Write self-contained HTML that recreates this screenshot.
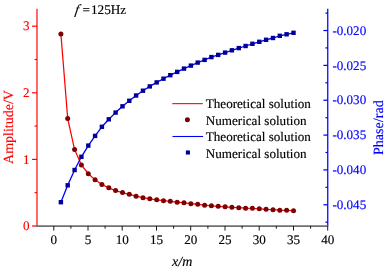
<!DOCTYPE html>
<html><head><meta charset="utf-8"><title>chart</title>
<style>
html,body{margin:0;padding:0;background:#fff;}
svg{display:block;}
text{text-rendering:geometricPrecision;font-family:"Liberation Serif","Times New Roman",serif;font-size:13.1px;stroke-width:0.15px;}
.k{fill:#000;stroke:#000}.r{fill:#ff0000;stroke:#ff0000}.b{fill:#0000ff;stroke:#0000ff}
</style></head><body>
<svg width="387" height="269" viewBox="0 0 387 269">
<rect width="387" height="269" fill="#fff"/>

<polyline points="60.9,34.05 67.7,118.55 74.6,149.55 81.4,164.95 88.3,173.75 95.1,179.85 101.9,184.55 108.8,187.85 115.6,190.55 122.5,192.55 129.3,194.35 136.1,196.15 143.0,197.65 149.8,198.85 156.7,199.85 163.5,200.65 170.3,201.35 177.2,202.15 184.0,202.85 190.9,203.65 197.7,204.35 204.6,205.15 211.4,205.85 218.2,206.35 225.1,206.85 231.9,207.35 238.8,207.65 245.6,208.15 252.4,208.35 259.3,208.85 266.1,209.35 273.0,209.65 279.8,210.15 286.6,210.35 293.5,210.65" fill="none" stroke="#ff0000" stroke-width="1.25" stroke-linejoin="round"/>
<polyline points="60.9,202.20 67.7,185.30 74.6,170.00 81.4,156.80 88.3,145.60 95.1,135.90 101.9,126.80 108.8,119.30 115.6,112.60 122.5,106.30 129.3,100.80 136.1,95.50 143.0,90.70 149.8,86.40 156.7,82.40 163.5,78.70 170.3,75.20 177.2,71.90 184.0,68.60 190.9,65.60 197.7,62.60 204.6,59.90 211.4,57.10 218.2,54.90 225.1,52.60 231.9,50.30 238.8,48.10 245.6,46.00 252.4,43.80 259.3,41.80 266.1,39.80 273.0,38.00 279.8,35.80 286.6,34.30 293.5,32.80" fill="none" stroke="#0000ff" stroke-width="1.3" stroke-linejoin="round"/>
<circle cx="60.9" cy="34.05" r="2.5" fill="#7e0004"/>
<circle cx="67.7" cy="118.55" r="2.5" fill="#7e0004"/>
<circle cx="74.6" cy="149.55" r="2.5" fill="#7e0004"/>
<circle cx="81.4" cy="164.95" r="2.5" fill="#7e0004"/>
<circle cx="88.3" cy="173.75" r="2.5" fill="#7e0004"/>
<circle cx="95.1" cy="179.85" r="2.5" fill="#7e0004"/>
<circle cx="101.9" cy="184.55" r="2.5" fill="#7e0004"/>
<circle cx="108.8" cy="187.85" r="2.5" fill="#7e0004"/>
<circle cx="115.6" cy="190.55" r="2.5" fill="#7e0004"/>
<circle cx="122.5" cy="192.55" r="2.5" fill="#7e0004"/>
<circle cx="129.3" cy="194.35" r="2.5" fill="#7e0004"/>
<circle cx="136.1" cy="196.15" r="2.5" fill="#7e0004"/>
<circle cx="143.0" cy="197.65" r="2.5" fill="#7e0004"/>
<circle cx="149.8" cy="198.85" r="2.5" fill="#7e0004"/>
<circle cx="156.7" cy="199.85" r="2.5" fill="#7e0004"/>
<circle cx="163.5" cy="200.65" r="2.5" fill="#7e0004"/>
<circle cx="170.3" cy="201.35" r="2.5" fill="#7e0004"/>
<circle cx="177.2" cy="202.15" r="2.5" fill="#7e0004"/>
<circle cx="184.0" cy="202.85" r="2.5" fill="#7e0004"/>
<circle cx="190.9" cy="203.65" r="2.5" fill="#7e0004"/>
<circle cx="197.7" cy="204.35" r="2.5" fill="#7e0004"/>
<circle cx="204.6" cy="205.15" r="2.5" fill="#7e0004"/>
<circle cx="211.4" cy="205.85" r="2.5" fill="#7e0004"/>
<circle cx="218.2" cy="206.35" r="2.5" fill="#7e0004"/>
<circle cx="225.1" cy="206.85" r="2.5" fill="#7e0004"/>
<circle cx="231.9" cy="207.35" r="2.5" fill="#7e0004"/>
<circle cx="238.8" cy="207.65" r="2.5" fill="#7e0004"/>
<circle cx="245.6" cy="208.15" r="2.5" fill="#7e0004"/>
<circle cx="252.4" cy="208.35" r="2.5" fill="#7e0004"/>
<circle cx="259.3" cy="208.85" r="2.5" fill="#7e0004"/>
<circle cx="266.1" cy="209.35" r="2.5" fill="#7e0004"/>
<circle cx="273.0" cy="209.65" r="2.5" fill="#7e0004"/>
<circle cx="279.8" cy="210.15" r="2.5" fill="#7e0004"/>
<circle cx="286.6" cy="210.35" r="2.5" fill="#7e0004"/>
<circle cx="293.5" cy="210.65" r="2.5" fill="#7e0004"/>
<rect x="58.7" y="200.0" width="4.4" height="4.4" fill="#000099"/>
<rect x="65.5" y="183.1" width="4.4" height="4.4" fill="#000099"/>
<rect x="72.4" y="167.8" width="4.4" height="4.4" fill="#000099"/>
<rect x="79.2" y="154.6" width="4.4" height="4.4" fill="#000099"/>
<rect x="86.1" y="143.4" width="4.4" height="4.4" fill="#000099"/>
<rect x="92.9" y="133.7" width="4.4" height="4.4" fill="#000099"/>
<rect x="99.7" y="124.6" width="4.4" height="4.4" fill="#000099"/>
<rect x="106.6" y="117.1" width="4.4" height="4.4" fill="#000099"/>
<rect x="113.4" y="110.4" width="4.4" height="4.4" fill="#000099"/>
<rect x="120.3" y="104.1" width="4.4" height="4.4" fill="#000099"/>
<rect x="127.1" y="98.6" width="4.4" height="4.4" fill="#000099"/>
<rect x="133.9" y="93.3" width="4.4" height="4.4" fill="#000099"/>
<rect x="140.8" y="88.5" width="4.4" height="4.4" fill="#000099"/>
<rect x="147.6" y="84.2" width="4.4" height="4.4" fill="#000099"/>
<rect x="154.5" y="80.2" width="4.4" height="4.4" fill="#000099"/>
<rect x="161.3" y="76.5" width="4.4" height="4.4" fill="#000099"/>
<rect x="168.1" y="73.0" width="4.4" height="4.4" fill="#000099"/>
<rect x="175.0" y="69.7" width="4.4" height="4.4" fill="#000099"/>
<rect x="181.8" y="66.4" width="4.4" height="4.4" fill="#000099"/>
<rect x="188.7" y="63.4" width="4.4" height="4.4" fill="#000099"/>
<rect x="195.5" y="60.4" width="4.4" height="4.4" fill="#000099"/>
<rect x="202.4" y="57.7" width="4.4" height="4.4" fill="#000099"/>
<rect x="209.2" y="54.9" width="4.4" height="4.4" fill="#000099"/>
<rect x="216.0" y="52.7" width="4.4" height="4.4" fill="#000099"/>
<rect x="222.9" y="50.4" width="4.4" height="4.4" fill="#000099"/>
<rect x="229.7" y="48.1" width="4.4" height="4.4" fill="#000099"/>
<rect x="236.6" y="45.9" width="4.4" height="4.4" fill="#000099"/>
<rect x="243.4" y="43.8" width="4.4" height="4.4" fill="#000099"/>
<rect x="250.2" y="41.6" width="4.4" height="4.4" fill="#000099"/>
<rect x="257.1" y="39.6" width="4.4" height="4.4" fill="#000099"/>
<rect x="263.9" y="37.6" width="4.4" height="4.4" fill="#000099"/>
<rect x="270.8" y="35.8" width="4.4" height="4.4" fill="#000099"/>
<rect x="277.6" y="33.6" width="4.4" height="4.4" fill="#000099"/>
<rect x="284.4" y="32.1" width="4.4" height="4.4" fill="#000099"/>
<rect x="291.3" y="30.6" width="4.4" height="4.4" fill="#000099"/>
<g stroke="#ff0000" stroke-width="1.18" fill="none">
<line x1="37.0" y1="8.8" x2="37.0" y2="226.4"/>
<line x1="32.0" y1="226.0" x2="37.0" y2="226.0"/>
<line x1="32.0" y1="159.4" x2="37.0" y2="159.4"/>
<line x1="32.0" y1="92.8" x2="37.0" y2="92.8"/>
<line x1="32.0" y1="26.2" x2="37.0" y2="26.2"/>
<line x1="34.6" y1="192.7" x2="37.0" y2="192.7"/>
<line x1="34.6" y1="126.1" x2="37.0" y2="126.1"/>
<line x1="34.6" y1="59.5" x2="37.0" y2="59.5"/>
</g>
<text x="29.6" y="230.1" text-anchor="end" class="r">0</text>
<text x="29.6" y="163.7" text-anchor="end" class="r">1</text>
<text x="29.6" y="96.7" text-anchor="end" class="r">2</text>
<text x="29.6" y="30.0" text-anchor="end" class="r">3</text>
<g stroke="#0000ff" stroke-width="1.25" fill="none">
<line x1="327.75" y1="8.8" x2="327.75" y2="226.4"/>
<line x1="323.45" y1="30.5" x2="327.75" y2="30.5"/>
<line x1="323.45" y1="65.4" x2="327.75" y2="65.4"/>
<line x1="323.45" y1="100.2" x2="327.75" y2="100.2"/>
<line x1="323.45" y1="135.1" x2="327.75" y2="135.1"/>
<line x1="323.45" y1="169.9" x2="327.75" y2="169.9"/>
<line x1="323.45" y1="204.8" x2="327.75" y2="204.8"/>
<line x1="325.45" y1="13.1" x2="327.75" y2="13.1"/>
<line x1="325.45" y1="47.9" x2="327.75" y2="47.9"/>
<line x1="325.45" y1="82.8" x2="327.75" y2="82.8"/>
<line x1="325.45" y1="117.7" x2="327.75" y2="117.7"/>
<line x1="325.45" y1="152.5" x2="327.75" y2="152.5"/>
<line x1="325.45" y1="187.4" x2="327.75" y2="187.4"/>
<line x1="325.45" y1="222.2" x2="327.75" y2="222.2"/>
</g>
<text x="332.4" y="34.8" class="b">-0.020</text>
<text x="332.4" y="69.5" class="b">-0.025</text>
<text x="332.4" y="104.4" class="b">-0.030</text>
<text x="332.4" y="139.1" class="b">-0.035</text>
<text x="332.4" y="174.2" class="b">-0.040</text>
<text x="332.4" y="209.3" class="b">-0.045</text>
<g stroke="#1a1a1a" stroke-width="1.0" fill="none">
<line x1="36.0" y1="226.05" x2="327.95" y2="226.05" stroke="#707070" stroke-width="1.85"/>
<line x1="53.8" y1="225.9" x2="53.8" y2="230.6"/>
<line x1="88.0" y1="225.9" x2="88.0" y2="230.6"/>
<line x1="122.2" y1="225.9" x2="122.2" y2="230.6"/>
<line x1="156.5" y1="225.9" x2="156.5" y2="230.6"/>
<line x1="190.7" y1="225.9" x2="190.7" y2="230.6"/>
<line x1="225.0" y1="225.9" x2="225.0" y2="230.6"/>
<line x1="259.2" y1="225.9" x2="259.2" y2="230.6"/>
<line x1="293.5" y1="225.9" x2="293.5" y2="230.6"/>
<line x1="327.7" y1="225.9" x2="327.7" y2="230.6"/>
<line x1="70.9" y1="225.9" x2="70.9" y2="228.70000000000002"/>
<line x1="105.1" y1="225.9" x2="105.1" y2="228.70000000000002"/>
<line x1="139.4" y1="225.9" x2="139.4" y2="228.70000000000002"/>
<line x1="173.6" y1="225.9" x2="173.6" y2="228.70000000000002"/>
<line x1="207.9" y1="225.9" x2="207.9" y2="228.70000000000002"/>
<line x1="242.1" y1="225.9" x2="242.1" y2="228.70000000000002"/>
<line x1="276.3" y1="225.9" x2="276.3" y2="228.70000000000002"/>
<line x1="310.6" y1="225.9" x2="310.6" y2="228.70000000000002"/>
</g>
<text x="53.8" y="243.6" text-anchor="middle" class="k">0</text>
<text x="88.0" y="243.6" text-anchor="middle" class="k">5</text>
<text x="122.2" y="243.6" text-anchor="middle" class="k">10</text>
<text x="156.5" y="243.6" text-anchor="middle" class="k">15</text>
<text x="190.7" y="243.6" text-anchor="middle" class="k">20</text>
<text x="225.0" y="243.6" text-anchor="middle" class="k">25</text>
<text x="259.2" y="243.6" text-anchor="middle" class="k">30</text>
<text x="293.5" y="243.6" text-anchor="middle" class="k">35</text>
<text x="327.7" y="243.6" text-anchor="middle" class="k">40</text>
<text x="182.2" y="265.7" text-anchor="middle" class="k" font-style="italic" style="font-size:14px">x/m</text>
<text transform="translate(74.5,13.6) skewX(-9)" class="k" font-style="italic" style="font-size:13.8px">f</text>
<text x="82.6" y="14.2" class="k" style="font-size:13.2px">=<tspan dx="0.9">125Hz</tspan></text>
<text transform="translate(13.4,127.0) rotate(-90)" text-anchor="middle" class="r" style="font-size:14.0px">Amplitude/V</text>
<text transform="translate(383.0,127.7) rotate(-90)" text-anchor="middle" class="b" style="font-size:14.1px">Phase/rad</text>
<line x1="172.3" y1="103.65" x2="202.8" y2="103.65" stroke="#ff0000" stroke-width="1.1"/>
<circle cx="187.4" cy="119.8" r="2.5" fill="#780000"/>
<line x1="172.5" y1="136.5" x2="203.1" y2="136.5" stroke="#0000ff" stroke-width="1.1"/>
<rect x="185.85" y="150.45" width="4.1" height="4.1" fill="#000099"/>
<text x="205.8" y="107.9" class="k">Theoretical solution</text>
<text x="205.8" y="124.5" class="k">Numerical solution</text>
<text x="205.8" y="141.0" class="k">Theoretical solution</text>
<text x="205.8" y="157.6" class="k">Numerical solution</text>
</svg>
</body></html>
